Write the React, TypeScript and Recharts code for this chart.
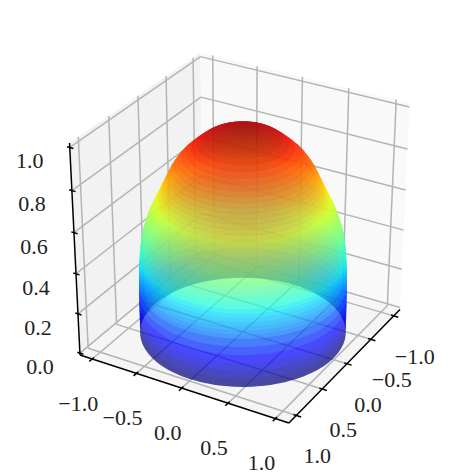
import type { ReactNode } from 'react';
import { Area, ComposedChart, LabelList, Line, XAxis, YAxis } from 'recharts';

// surface profile
const zLevels = [
  0, 0.04, 0.08, 0.12, 0.16, 0.2, 0.24, 0.26, 0.28, 0.3, 0.32, 0.34, 0.36, 0.38, 0.4, 0.42, 0.44,
  0.46, 0.48, 0.5, 0.52, 0.54, 0.56, 0.58, 0.6, 0.62, 0.64, 0.66, 0.68, 0.7, 0.72, 0.74, 0.76,
  0.78, 0.8, 0.82, 0.84, 0.86, 0.88, 0.9, 0.92, 0.94, 0.95, 0.96, 0.97, 0.98, 0.985, 0.99, 0.995,
];
const radii = [
  1, 1, 1, 1, 1, 1, 0.997, 0.995, 0.994, 0.992, 0.99, 0.988, 0.986, 0.983, 0.98, 0.975, 0.969,
  0.963, 0.955, 0.946, 0.933, 0.92, 0.904, 0.888, 0.87, 0.851, 0.83, 0.81, 0.79, 0.77, 0.75, 0.73, 0.71,
  0.69, 0.665, 0.637, 0.606, 0.57, 0.527, 0.48, 0.43, 0.375, 0.34, 0.29, 0.24, 0.17, 0.12, 0.07, 0.03,
];
const xyTicks = [-1, -0.5, 0, 0.5, 1];
const zTicks = [0, 0.2, 0.4, 0.6, 0.8, 1];
const tickText = (v: number) => (v < 0 ? '\u2212' : '') + Math.abs(v).toFixed(1);

const SIZE = 474;
const L = 1.14;
const Z0 = -0.01;
const Z1 = 1.02;
const BOX = [1.19, 1.19, 1.22];
const DIST = 10;
const AZ = (60 * Math.PI) / 180;
const EL = (30 * Math.PI) / 180;
const SURFACE_ALPHA = 0.7;

type P = { x: number; y: number };

const W = [Math.cos(EL) * Math.cos(AZ), Math.cos(EL) * Math.sin(AZ), Math.sin(EL)];
const U = [Math.sin(AZ), -Math.cos(AZ), 0];
const V = [-Math.sin(EL) * Math.cos(AZ), -Math.sin(EL) * Math.sin(AZ), Math.cos(EL)];
const dot = (a: number[], b: number[]) => a[0] * b[0] + a[1] * b[1] + a[2] * b[2];

const view = (x: number, y: number, z: number) => {
  const rel = [
    ((x + L) / (2 * L) - 0.5) * BOX[0] - DIST * W[0],
    ((y + L) / (2 * L) - 0.5) * BOX[1] - DIST * W[1],
    ((z - Z0) / (Z1 - Z0) - 0.5) * BOX[2] - DIST * W[2],
  ];
  const depth = -dot(rel, W);
  return [dot(rel, U) / depth, dot(rel, V) / depth];
};

// fit the view to the frame of the axes in the picture
const leftV = view(-L, L, Z0);
const rightV = view(L, -L, Z0);
const frontV = view(L, L, Z0);
const SX = (400 - 80) / (rightV[0] - leftV[0]);
const SY = (423 - 355) / (leftV[1] - frontV[1]);

const project = (x: number, y: number, z: number): P => {
  const v = view(x, y, z);
  return { x: 80 + (v[0] - leftV[0]) * SX, y: 423 - (v[1] - frontV[1]) * SY };
};

const jet = (t: number) => {
  const ramp = (pts: number[][]) => {
    for (let i = 1; i < pts.length; i++) {
      if (t <= pts[i][0]) {
        const f = (t - pts[i - 1][0]) / (pts[i][0] - pts[i - 1][0]);
        return pts[i - 1][1] + f * (pts[i][1] - pts[i - 1][1]);
      }
    }
    return pts[pts.length - 1][1];
  };
  const r = ramp([[0, 0], [0.35, 0], [0.66, 1], [0.89, 1], [1, 0.5]]);
  const g = ramp([[0, 0], [0.125, 0], [0.375, 1], [0.64, 1], [0.91, 0], [1, 0]]);
  const b = ramp([[0, 0.5], [0.11, 1], [0.34, 1], [0.65, 0], [1, 0]]);
  return `rgb(${Math.round(r * 255)},${Math.round(g * 255)},${Math.round(b * 255)})`;
};

// y extent of a convex polygon at a given x
const spanAt = (poly: P[], x: number) => {
  let lo = Infinity;
  let hi = -Infinity;
  poly.forEach((a, i) => {
    const b = poly[(i + 1) % poly.length];
    if (x < Math.min(a.x, b.x) || x > Math.max(a.x, b.x)) return;
    const y = a.x === b.x ? a.y : a.y + ((x - a.x) / (b.x - a.x)) * (b.y - a.y);
    lo = Math.min(lo, y);
    hi = Math.max(hi, y);
  });
  return hi === -Infinity ? null : [lo, hi];
};

const sortedXs = (...polys: P[][]) =>
  Array.from(new Set(polys.flat().map((p) => p.x))).sort((a, b) => a - b);

const polyBand = (poly: P[]) =>
  sortedXs(poly).map((x) => ({ x, band: spanAt(poly, x) }));

const ANGLES = Array.from({ length: 72 }, (_, i) => (i / 72) * 2 * Math.PI);
const rings = zLevels.map((z, k) =>
  ANGLES.map((a) => project(radii[k] * Math.cos(a), radii[k] * Math.sin(a), z)),
);

// far side of the wall, drawn top down so each strip laps over the one above it
const backStrip = (k: number) =>
  sortedXs(rings[k], rings[k + 1]).flatMap((x) => {
    const a = spanAt(rings[k], x);
    const b = spanAt(rings[k + 1], x);
    if (!a || !b) return [];
    return [{ x, band: [Math.min(a[0], b[0]), Math.max(a[0], b[0]) + (k === 0 ? 0 : 1.5)] }];
  });

const stripIds = zLevels.slice(0, -1).map((_, k) => k);
const stripColor = (k: number) => jet((zLevels[k] + zLevels[k + 1]) / 2);

const seg = (a: P, b: P) => [a, b];

const leftPane = [project(-L, L, Z0), project(-L, L, Z1), project(-L, -L, Z1), project(-L, -L, Z0)];
const rightPane = [project(-L, -L, Z0), project(-L, -L, Z1), project(L, -L, Z1), project(L, -L, Z0)];
const floorPane = [project(-L, L, Z0), project(L, L, Z0), project(L, -L, Z0), project(-L, -L, Z0)];

const gridLines = [
  ...xyTicks.flatMap((t) => [
    seg(project(t, L, Z0), project(t, -L, Z0)),
    seg(project(t, -L, Z0), project(t, -L, Z1)),
    seg(project(L, t, Z0), project(-L, t, Z0)),
    seg(project(-L, t, Z0), project(-L, t, Z1)),
  ]),
  ...zTicks.flatMap((z) => [
    seg(project(-L, L, z), project(-L, -L, z)),
    seg(project(-L, -L, z), project(L, -L, z)),
  ]),
];

const axisLines = [
  seg(project(-L, L, Z0), project(L, L, Z0)),
  seg(project(L, L, Z0), project(L, -L, Z0)),
  seg(project(-L, L, Z0), project(-L, L, Z1)),
  ...xyTicks.flatMap((t) => [
    seg(project(t, L - 0.03, Z0), project(t, L + 0.05, Z0)),
    seg(project(L - 0.03, t, Z0), project(L + 0.05, t, Z0)),
  ]),
  ...zTicks.map((z) => seg(project(-L - 0.03, L, z), project(-L + 0.04, L, z))),
];

const labels = [
  ...xyTicks.map((t) => {
    const p = project(t, L, Z0);
    return { x: p.x - 14, y: p.y + 44, text: tickText(t) };
  }),
  ...xyTicks.map((t) => {
    const p = project(L, t, Z0);
    return { x: p.x + 21, y: p.y + 40, text: tickText(t) };
  }),
  ...zTicks.map((z) => {
    const p = project(-L, L, z);
    return { x: p.x - 40, y: p.y + 13, text: tickText(z) };
  }),
];

const Layer = ({ opacity = 1, children }: { opacity?: number; children: ReactNode }) => (
  <div style={{ position: 'absolute', left: 0, top: 0, width: SIZE, height: SIZE, opacity }}>
    <ComposedChart width={SIZE} height={SIZE} margin={{ top: 0, right: 0, bottom: 0, left: 0 }}>
      <XAxis type="number" dataKey="x" domain={[0, SIZE]} hide allowDataOverflow />
      <YAxis type="number" domain={[0, SIZE]} reversed hide allowDataOverflow />
      {children}
    </ComposedChart>
  </div>
);

const areaProps = { dataKey: 'band', type: 'linear' as const, fillOpacity: 1, stroke: 'none', isAnimationActive: false, dot: false, activeDot: false };

export default function App() {
  return (
    <div style={{ width: SIZE, height: SIZE, position: 'absolute', left: 0, top: 0, background: '#fff', overflow: 'hidden' }}>
      <Layer>
        <Area {...areaProps} data={polyBand(leftPane)} fill="#f2f2f2" zIndex={1} />
        <Area {...areaProps} data={polyBand(rightPane)} fill="#f9f9f9" zIndex={1} />
        <Area {...areaProps} data={polyBand(floorPane)} fill="#f5f5f5" zIndex={1} />
        {gridLines.map((pts, i) => (
          <Line key={`g${i}`} data={pts} dataKey="y" type="linear" stroke="#b4b4b4" strokeWidth={1.5} dot={false} activeDot={false} isAnimationActive={false} zIndex={2} />
        ))}
      </Layer>

      <Layer opacity={SURFACE_ALPHA}>
        {[...stripIds].reverse().map((k) => (
          <Area key={`b${k}`} {...areaProps} data={backStrip(k)} fill={stripColor(k)} />
        ))}
      </Layer>

      <Layer opacity={SURFACE_ALPHA}>
        {rings.map((ring, k) => (
          <Area key={`f${k}`} {...areaProps} data={polyBand(ring)} fill={jet(zLevels[k])} />
        ))}
      </Layer>

      <Layer>
        {axisLines.map((pts, i) => (
          <Line key={`a${i}`} data={pts} dataKey="y" type="linear" stroke="#000" strokeWidth={1.5} dot={false} activeDot={false} isAnimationActive={false} />
        ))}
        <Line data={labels} dataKey="y" stroke="none" dot={false} activeDot={false} isAnimationActive={false}>
          <LabelList dataKey="text" position="center" style={{ fontFamily: '"Liberation Serif", serif', fontSize: 22, fill: '#222' }} />
        </Line>
      </Layer>
    </div>
  );
}
